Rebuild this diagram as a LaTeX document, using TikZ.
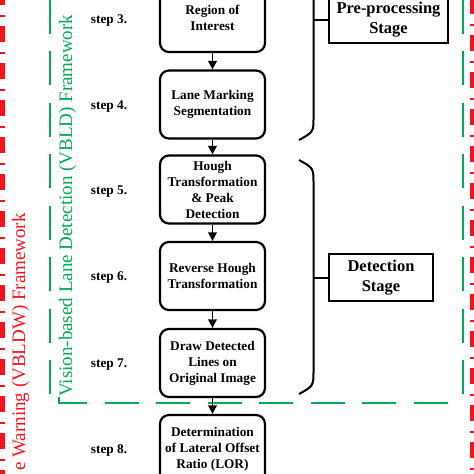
\documentclass[tikz,border=0pt]{standalone}
\usepackage{fontspec}
\setmainfont{Liberation Serif}
\usetikzlibrary{arrows.meta}
\definecolor{vgreen}{RGB}{0,170,80}
\definecolor{vred}{RGB}{240,20,30}
\begin{document}
\begin{tikzpicture}[x=1pt,y=-1pt,
  procbox/.style={draw, line width=2.2pt, rounded corners=9pt, minimum width=105pt, minimum height=68pt, align=center, font=\fontsize{13.3}{16}\selectfont\bfseries, inner sep=0pt},
  steplabel/.style={font=\fontsize{13.3}{16}\selectfont\bfseries, inner sep=0pt},
  stagebox/.style={draw, line width=1.5pt, minimum height=47pt, align=center, font=\fontsize{16.5}{20}\selectfont\bfseries, inner sep=0pt},
  flow/.style={line width=1.8pt, -{Triangle[width=8.5pt,length=8.5pt]}},
  bracepath/.style={line width=2pt},
  greendash/.style={draw=vgreen, line width=2.5pt, dash pattern=on 34pt off 17.5pt},
  reddash/.style={draw=vred, line width=5pt, dash pattern=on 16pt off 10pt on 1.5pt off 9.5pt},
  sidetext/.style={rotate=90, inner sep=0pt, font=\fontsize{19}{23}\selectfont},
]
\useasboundingbox (0,0) rectangle (474,474);
\clip (0,0) rectangle (474,474);

% frames
\draw[reddash] (2.5,-11) -- (2.5,480);
\draw[reddash] (472.5,-2) -- (472.5,480);
\draw[greendash] (50,394) -- (50,-20);
\draw[greendash] (463,394) -- (463,-20);
\draw[greendash] (59,397) -- (59,403) -- (454,403);

% side texts
\node[sidetext, anchor=base west, text=vgreen] (gt) at (72,397) {Vision-based Lane Detection (VBLD) Framework};
\node[sidetext, anchor=base east, text=vred] (rt) at (25,213) {e Warning (VBLDW) Framework};

% process boxes
\node[procbox] (b1) at (212.5,18) {Region of\\Interest};
\node[procbox] (b2) at (212.5,104.5) {Lane Marking\\Segmentation};
\node[procbox] (b3) at (212.5,189.5) {Hough\\Transformation\\\& Peak\\Detection};
\node[procbox] (b4) at (212.5,276) {Reverse Hough\\Transformation};
\node[procbox] (b5) at (212.5,363) {Draw Detected\\Lines on\\Original Image};
\node[procbox] (b6) at (212.5,449) {Determination\\of Lateral Offset\\Ratio (LOR)};

% step labels
\node[steplabel] (s3) at (109,21) {step 3.};
\node[steplabel] (s4) at (109,106.5) {step 4.};
\node[steplabel] (s5) at (109,192) {step 5.};
\node[steplabel] (s6) at (109,278) {step 6.};
\node[steplabel] (s7) at (109,364.5) {step 7.};
\node[steplabel] (s8) at (109,450.5) {step 8.};

% arrows
\draw[flow] (b1) -- (b2);
\draw[flow] (b2) -- (b3);
\draw[flow] (b3) -- (b4);
\draw[flow] (b4) -- (b5);
\draw[flow] (b5) -- (b6);

% stage boxes
\node[stagebox, minimum width=119pt] (pre) at (388.5,19.5) {Pre-processing\\Stage};
\node[stagebox, minimum width=104pt] (det) at (381,277.5) {Detection\\Stage};

% braces
\draw[bracepath] (313.5,-10) -- (313.5,117) .. controls (313.5,132) .. (299,140);
\draw[bracepath] (313.5,19.5) -- (pre.west);
\draw[bracepath] (299,160) .. controls (313.5,168) .. (313.5,184) -- (313.5,370) .. controls (313.5,386) .. (299,394);
\draw[bracepath] (313.5,277.5) -- (det.west);
\end{tikzpicture}
\end{document}
